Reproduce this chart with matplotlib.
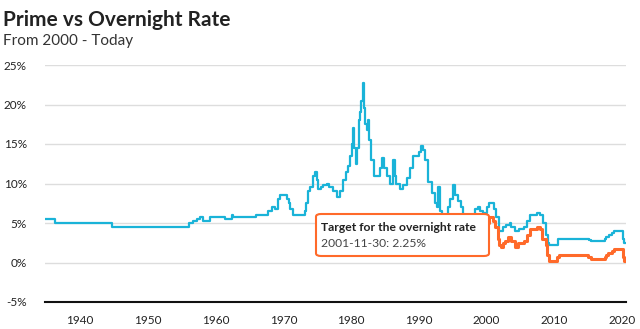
import matplotlib.pyplot as plt
from matplotlib.patches import FancyBboxPatch

plt.rcParams['font.family'] = ['Lato', 'DejaVu Sans']

# prime rate (decimal year, %) - step changes
prime_years = [1935.0, 1936.3, 1944.7, 1956.1, 1956.7, 1957.3, 1957.7, 1958.2, 1959.2, 1961.4,
               1962.4, 1962.6, 1966.0, 1967.8, 1968.3, 1968.8, 1969.2, 1969.5, 1970.6, 1970.8,
               1971.0, 1971.4, 1973.2, 1973.4, 1973.6, 1974.0, 1974.4, 1974.7, 1974.9, 1975.1,
               1975.6, 1975.9, 1976.4, 1976.8, 1977.3, 1977.9, 1978.4, 1978.8, 1979.3, 1979.6,
               1979.9, 1980.1, 1980.3, 1980.5, 1980.7, 1980.9, 1981.1, 1981.3, 1981.5, 1981.7,
               1981.9, 1982.1, 1982.3, 1982.5, 1982.7, 1983.0, 1983.4, 1984.3, 1984.6, 1984.9,
               1985.3, 1985.8, 1986.2, 1986.5, 1986.7, 1987.2, 1987.6, 1988.0, 1988.3, 1988.7,
               1989.2, 1989.7, 1990.0, 1990.3, 1990.6, 1990.9, 1991.4, 1991.9, 1992.4, 1992.7,
               1992.9, 1993.1, 1993.4, 1993.9, 1994.3, 1994.6, 1995.0, 1995.4, 1995.8, 1996.2,
               1996.5, 1996.9, 1997.3, 1997.8, 1998.3, 1998.7, 1999.0, 1999.5, 2000.0, 2000.4,
               2001.1, 2001.4, 2001.8, 2002.4, 2002.9, 2003.4, 2003.6, 2004.2, 2004.8, 2005.6,
               2006.0, 2006.4, 2007.5, 2007.9, 2008.3, 2008.8, 2009.1, 2009.3, 2010.5, 2015.1,
               2015.5, 2017.5, 2017.7, 2018.1, 2018.6, 2018.9, 2020.2, 2020.3, 2020.6]
prime_rates = [5.5, 5.0, 4.5, 5.0, 5.25, 5.5, 5.75, 5.25, 5.75, 5.5,
               6.0, 5.75, 6.0, 6.5, 7.0, 6.75, 8.0, 8.5, 8.0, 7.5,
               6.75, 6.0, 6.5, 7.5, 9.0, 9.5, 11.0, 11.5, 10.5, 9.25,
               9.5, 9.75, 10.0, 9.5, 9.0, 8.25, 9.0, 10.5, 11.5, 12.25,
               13.5, 15.0, 17.0, 14.5, 12.5, 14.5, 18.0, 19.0, 20.5, 22.75,
               19.5, 17.5, 16.75, 18.0, 15.5, 13.0, 11.0, 12.0, 13.25, 12.0,
               11.0, 10.0, 13.0, 11.0, 10.0, 9.25, 9.75, 9.75, 10.75, 12.0,
               13.5, 13.5, 14.0, 14.75, 14.25, 13.0, 10.25, 8.75, 7.5, 7.0,
               9.5, 6.5, 6.0, 5.5, 7.0, 8.0, 9.75, 8.5, 7.75, 7.0,
               6.0, 4.75, 4.5, 5.5, 6.75, 7.0, 6.5, 6.25, 7.0, 7.5,
               6.75, 5.75, 4.0, 4.5, 4.75, 5.0, 4.5, 4.0, 4.25, 4.5,
               5.25, 6.0, 6.25, 6.0, 5.0, 3.5, 2.5, 2.25, 3.0, 2.85,
               2.7, 3.0, 3.2, 3.45, 3.7, 3.95, 2.95, 2.45, 2.45]

# target for the overnight rate
overnight_years = [1996.0, 1996.3, 1996.6, 1996.9, 1997.5, 1997.9, 1998.6, 1999.0, 1999.9, 2000.3,
                   2001.0, 2001.3, 2001.7, 2001.9, 2002.2, 2002.4, 2002.7, 2003.2, 2003.6, 2004.2,
                   2004.7, 2005.6, 2006.0, 2006.4, 2007.5, 2007.9, 2008.2, 2008.8, 2009.0, 2009.3,
                   2010.4, 2010.7, 2015.0, 2015.5, 2017.5, 2017.7, 2018.0, 2018.5, 2018.8, 2020.2,
                   2020.3, 2020.6]
overnight_rates = [5.25, 4.75, 4.0, 3.0, 3.25, 4.0, 5.0, 4.75, 5.0, 5.75,
                   5.25, 4.5, 3.0, 2.25, 2.0, 2.5, 2.75, 3.25, 2.75, 2.0,
                   2.5, 2.75, 3.5, 4.25, 4.5, 4.25, 3.0, 2.25, 1.0, 0.25,
                   0.75, 1.0, 0.75, 0.5, 0.75, 1.0, 1.25, 1.5, 1.75, 0.75,
                   0.25, 0.25]

yticks = [-5, 0, 5, 10, 15, 20, 25]
xticks = [1940, 1950, 1960, 1970, 1980, 1990, 2000, 2010, 2020]

fig = plt.figure(figsize=(6.4, 3.29), dpi=100)
ax = fig.add_axes([45 / 640, 27 / 329, 581 / 640, 237 / 329])

ax.plot(prime_years, prime_rates, drawstyle='steps-post', color='#1ab3d8', lw=1.6, zorder=3)
ax.plot(overnight_years, overnight_rates, drawstyle='steps-post', color='#ff6a2a', lw=2.2, zorder=4)

ax.set_xlim(1934.8, 2020.6)
ax.set_ylim(-5, 25)
ax.set_yticks(yticks)
ax.set_yticklabels([f'{t}%' for t in yticks])
ax.set_xticks(xticks)
ax.set_xticklabels([str(t) for t in xticks])
ax.tick_params(length=0, labelsize=8.5, colors='#222222')
ax.tick_params(axis='y', pad=13)
ax.tick_params(axis='x', pad=9)
ax.grid(axis='y', color='#dddddd', lw=1)
ax.set_axisbelow(True)
for s in ['top', 'right', 'left']:
    ax.spines[s].set_visible(False)
ax.spines['bottom'].set_color('#111111')
ax.spines['bottom'].set_linewidth(1.5)

fig.text(0.005, 0.922, 'Prime vs Overnight Rate', fontsize=15, fontweight='bold', color='#222222')
fig.text(0.005, 0.862, 'From 2000 - Today', fontsize=11, color='#333333')

# tooltip
box = FancyBboxPatch((316 / 640, 73 / 329), 173 / 640, 42 / 329,
                     boxstyle='round,pad=0,rounding_size=0.008', transform=fig.transFigure,
                     facecolor='white', edgecolor='#ff6a2a', lw=1.5, zorder=10)
fig.patches.append(box)
fig.text(321 / 640, 98 / 329, 'Target for the overnight rate', fontsize=8.7, fontweight='bold',
         color='#222222', zorder=11)
fig.text(321 / 640, 82 / 329, '2001-11-30: 2.25%', fontsize=8.7, color='#444444', zorder=11)

fig.savefig('out.png', dpi=100)
